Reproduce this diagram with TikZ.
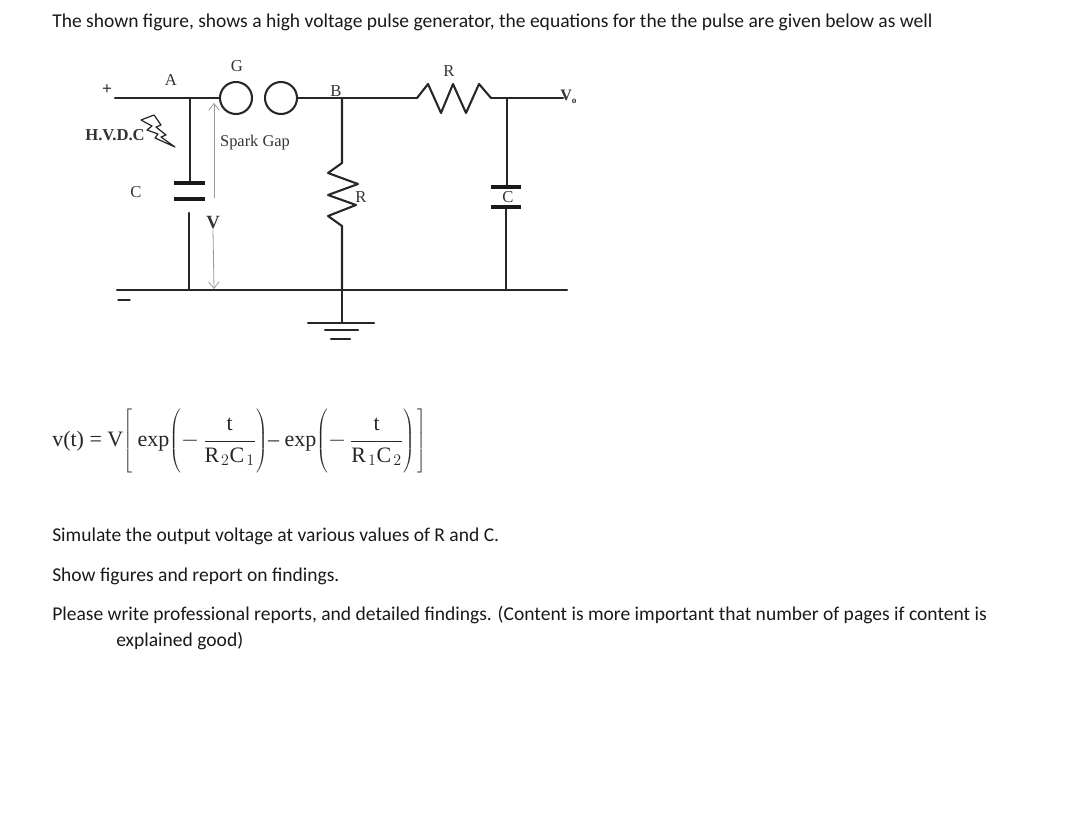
\documentclass[tikz,border=0pt]{standalone}
\usepackage{fontspec}
\setmainfont{Carlito}
\newfontfamily\figfont{Liberation Serif}
\usetikzlibrary{arrows.meta}
\newcommand{\eqstrut}{\rule[-20pt]{0pt}{47pt}}
\tikzset{
  wire/.style={line width=1.55pt,black!85},
  plate/.style={line width=3pt,black!90,line cap=butt},
  gapball/.style={circle,draw=black!85,line width=1.55pt,minimum size=24pt,inner sep=0pt},
  lab/.style={font=\figfont\fontsize{12.5}{13}\selectfont,text=black!80,inner sep=0pt},
  para/.style={anchor=base west,inner sep=0pt,font=\fontsize{14.65}{16}\selectfont,text=black!90}
}
\begin{document}
\begin{tikzpicture}[line cap=round,line join=round,>=latex,x=0.75pt,y=-0.75pt]
\useasboundingbox (0,0) rectangle (1069,822);
% text
\node [para] (title) at (52,27) {The shown figure, shows a high voltage pulse generator, the equations for the the pulse are given below as well};
\node [para] (simtext) at (52,541) {Simulate the output voltage at various values of R and C.};
\node [para] (showtext) at (52,581) {Show figures and report on findings.};
\node [para] (reptext) at (52,620) {Please write professional reports, and detailed findings. (Content is more important that number of pages if content is};
\node [para] (reptextb) at (116,646) {explained good)};
% points of the circuit
\coordinate (plus) at (115,98);
\coordinate (A) at (190,98);
\coordinate (B) at (342,98);
\coordinate (rin) at (417,98);
\coordinate (rout) at (491,98);
\coordinate (D) at (507,98);
\coordinate (out) at (563,98);
\coordinate (minus) at (117,290);
\coordinate (E) at (189,290);
\coordinate (F) at (342,290);
\coordinate (H) at (506,290);
\coordinate (end) at (567,290);
\coordinate (gnd) at (342,323);
\node [gapball] (ballA) at (236,98) {};
\node [gapball] (ballB) at (281,98) {};
% wires
\draw [wire] (plus)--(A)--(ballA.west);
\draw [wire] (ballB.east)--(B)--(rin);
\draw [wire] (rout)--(D)--(out);
\draw [wire] (minus)--(E)--(F)--(H)--(end);
\draw [wire] (F)--(gnd);
% series resistor
\draw [wire] (rin)--(428,84)--(441,113)--(453,84)--(466,113)--(479,84)--(rout);
% shunt resistor
\draw [wire] (B)--(342,163)--(328,173)--(358,184)--(328,195)--(356,205)--(328,216)--(342,226)--(F);
% capacitors
\coordinate (ca) at (190,183);
\coordinate (cb) at (189,213);
\draw [wire] (A)--(ca);
\draw [wire] (cb)--(E);
\draw [plate] (174,183)--(205,183);
\draw [plate] (174,199)--(205,199);
\coordinate (cc) at (507,187);
\coordinate (cd) at (506,207);
\draw [wire] (D)--(cc);
\draw [wire] (cd)--(H);
\draw [plate] (491,187)--(521,187);
\draw [plate] (491,207)--(521,207);
% ground
\draw [wire] (308,323)--(374,323);
\draw [wire] (325,330)--(358,330);
\draw [wire] (331,339)--(350,339);
\draw [wire,line width=1pt] (118,300)--(130,300);
% voltage arrow
\node [lab,font=\figfont\bfseries\fontsize{14}{15}\selectfont] (V) at (213,223) {V};
\coordinate (vtop) at (214,103);
\coordinate (vbot) at (214,289);
\draw [black!40,line width=0.6pt,-{Straight Barb[length=5pt,width=8pt]}] (214,198)--(vtop);
\draw [black!40,line width=0.6pt,-{Straight Barb[length=5pt,width=8pt]}] (V.south)--(vbot);
% lightning
\draw [black!85,line width=0.9pt] (141,120)--(154,115)--(161,125)--(156,127)--(166,135)--(161,137)--(175,147)--(155,138)--(158,134)--(147,130)--(152,126)--cycle;
% labels
\node [lab,font=\figfont\bfseries\fontsize{13}{15}\selectfont] (lplus) at (107,90) {+};
\node [lab] (lA) at (171,80) {A};
\node [lab] (lG) at (237,66) {G};
\node [lab] (lB) at (336,91) {B};
\node [lab] (lR) at (449,71) {R};
\node [lab] (lRb) at (361,197) {R};
\node [lab] (lC) at (136,192) {C};
\node [lab] (lCb) at (508,197) {C};
\node [lab,font=\figfont\fontsize{12.3}{13}\selectfont] (lgap) at (255,143) {Spark Gap};
\node [lab,anchor=east,font=\figfont\bfseries\fontsize{12.5}{13}\selectfont] (lhv) at (145,135) {H.V.D.C};
\node [lab,anchor=west,font=\figfont\bfseries\fontsize{12}{13}\selectfont] (lout) at (560,97) {V\raisebox{-2.5pt}{\fontsize{7}{7}\selectfont o}};
% equation
\node [anchor=west,inner sep=0pt,text=black!85,font=\figfont\fontsize{16.5}{19}\selectfont] (eqn) at (52,441) {%
\mbox{v(t) = V}$\displaystyle\left[\mbox{ exp}\!\left(\eqstrut{-}\,\frac{\mbox{t}}{\mbox{R\kern1.5pt$_2$C\kern1.5pt$_1$}}\right)\!\mbox{– exp}\!\left(\eqstrut{-}\,\frac{\mbox{t}}{\mbox{R\kern1.5pt$_1$C\kern1.5pt$_2$}}\right)\kern2pt\right]$};
\end{tikzpicture}
\end{document}
